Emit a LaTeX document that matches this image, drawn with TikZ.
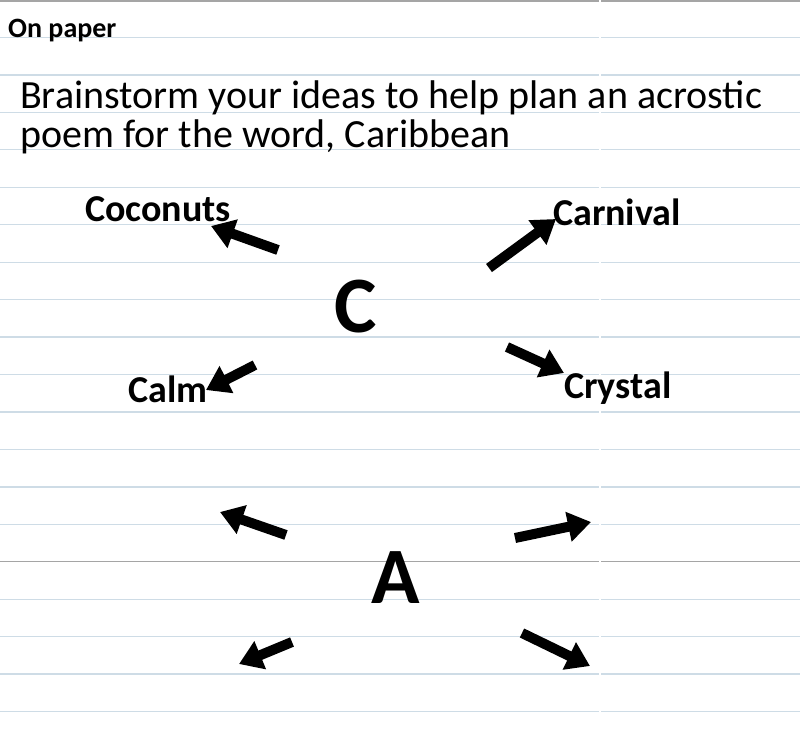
\documentclass[tikz,border=0pt]{standalone}
\usepackage{fontspec}
\setmainfont{Carlito}
\usetikzlibrary{arrows.meta}

\definecolor{ruleblue}{RGB}{206,220,230}
\definecolor{rulegrey}{RGB}{165,165,165}

\begin{document}
\begin{tikzpicture}[
    x=1pt, y=-1pt,
    rule_line/.style={draw=ruleblue, line width=1.3pt},
    dark_line/.style={draw=rulegrey, line width=1.3pt},
    title_node/.style={anchor=base west, inner sep=0pt, font=\fontsize{28}{30}\selectfont\bfseries},
    task_node/.style={anchor=base west, inner sep=0pt, align=left, font=\fontsize{40}{39}\selectfont},
    word_node/.style={anchor=base west, inner sep=0pt, font=\fontsize{38}{40}\selectfont\bfseries},
    letter_node/.style={anchor=base, inner sep=0pt, font=\fontsize{80}{80}\selectfont\bfseries},
    arrow/.style={line width=10pt, -{Triangle[length=23pt, width=29pt]}}
]
\useasboundingbox (0,0) rectangle (800,748);

% Paper lines (two columns)
\foreach \k in {1,...,19} {
    \draw[rule_line] (0,\k*37.45) -- (599,\k*37.45);
    \draw[rule_line] (601,\k*37.45) -- (800,\k*37.45);
}
\draw[dark_line] (0,1) -- (599,1);
\draw[dark_line] (601,1) -- (800,1);
\draw[dark_line] (0,15*37.45) -- (599,15*37.45);
\draw[dark_line] (601,15*37.45) -- (800,15*37.45);

% Heading and task (base anchor = last line)
\node[title_node] (heading) at (8,37) {On paper};
\node[task_node] (task) at (20,147) {Brainstorm your ideas to help plan an acrostic\\poem for the word, Caribbean};

% Letter C
\node[letter_node] (letterC) at (356,332) {C};
\node[word_node] (coconuts) at (85,221) {Coconuts};
\node[word_node] (carnival) at (553,225) {Carnival};
\node[word_node] (calm) at (128,402) {Calm};
\node[word_node] (crystal) at (564,398) {Crystal};

\coordinate (c_nw) at (278,250);
\coordinate (c_ne) at (489,268);
\coordinate (c_sw) at (255,365);
\coordinate (c_se) at (507,347);
\coordinate (coconuts_tip) at (211,226);
\coordinate (carnival_tip) at (556,219);
\coordinate (calm_tip) at (206,390);
\coordinate (crystal_tip) at (564,373);

\draw[arrow] (c_nw) -- (coconuts_tip);
\draw[arrow] (c_ne) -- (carnival_tip);
\draw[arrow] (c_sw) -- (calm_tip);
\draw[arrow] (c_se) -- (crystal_tip);

% Letter A
\node[letter_node] (letterA) at (396,603) {A};

\coordinate (a_nw) at (286,535);
\coordinate (a_ne) at (515,538);
\coordinate (a_sw) at (292,642);
\coordinate (a_se) at (522,633);
\coordinate (a_nw_tip) at (220,512);
\coordinate (a_ne_tip) at (591,522);
\coordinate (a_sw_tip) at (239,664);
\coordinate (a_se_tip) at (590,666);

\draw[arrow] (a_nw) -- (a_nw_tip);
\draw[arrow] (a_ne) -- (a_ne_tip);
\draw[arrow] (a_sw) -- (a_sw_tip);
\draw[arrow] (a_se) -- (a_se_tip);

\end{tikzpicture}
\end{document}
